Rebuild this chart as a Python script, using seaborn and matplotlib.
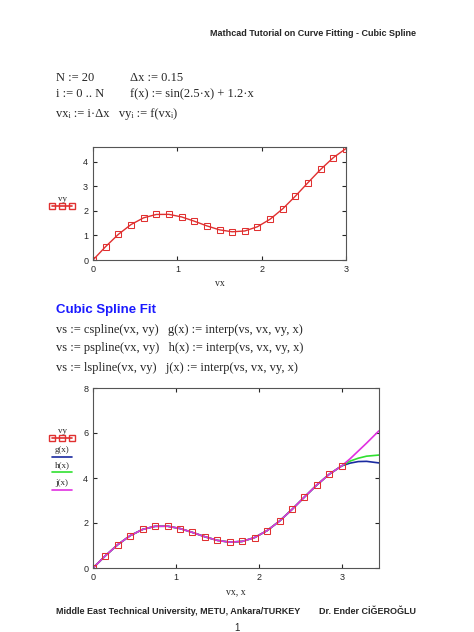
import matplotlib
matplotlib.use("Agg")
import matplotlib.pyplot as plt
import seaborn as sns
import numpy as np
from matplotlib.lines import Line2D

sns.set_style("white")
plt.rcParams['font.family'] = ['Liberation Sans', 'DejaVu Sans']

vx = [0, 0.15, 0.3, 0.45, 0.6, 0.75, 0.9, 1.05, 1.2, 1.35, 1.5, 1.65, 1.8, 1.95,
      2.1, 2.25, 2.4, 2.55, 2.7, 2.85, 3.0]
vy = [0, 0.546, 1.042, 1.442, 1.717, 1.854, 1.858, 1.754, 1.581, 1.389, 1.228,
      1.149, 1.182, 1.354, 1.661, 2.085, 2.601, 3.152, 3.690, 4.168, 4.538]
ext_x = [3.1, 3.2, 3.3, 3.45]
g_ext = [4.66, 4.73, 4.74, 4.67]
h_ext = [4.75, 4.88, 4.97, 5.02]
j_ext = [4.85, 5.2, 5.55, 6.1]

W, H = 474, 632
fig = plt.figure(figsize=(W/100, H/100), dpi=100)
def ax_px(l, t, r, b):
    return fig.add_axes([l/W, 1-b/H, (r-l)/W, (b-t)/H])
def ftext(x, y, s, **kw):
    fig.text(x/W, 1-y/H, s, **kw)

ftext(416, 33, "Mathcad Tutorial on Curve Fitting - Cubic Spline", ha='right', va='center', fontsize=6.5, fontweight='bold')
ser = dict(family='Liberation Serif', fontsize=9, va='center')
ftext(56, 78, "N := 20", **ser); ftext(130, 78, "Δx := 0.15", **ser)
ftext(56, 94, "i := 0 .. N", **ser); ftext(130, 94, "f(x) := sin(2.5·x) + 1.2·x", **ser)
ftext(56, 114, "vxᵢ := i·Δx   vyᵢ := f(vxᵢ)", **ser)

ftext(56, 310, "Cubic Spline Fit", fontsize=9.5, fontweight='bold', color='#1a1aff', va='center')
ftext(56, 330, "vs := cspline(vx, vy)   g(x) := interp(vs, vx, vy, x)", **ser)
ftext(56, 348, "vs := pspline(vx, vy)   h(x) := interp(vs, vx, vy, x)", **ser)
ftext(56, 368, "vs := lspline(vx, vy)   j(x) := interp(vs, vx, vy, x)", **ser)

ftext(56, 611, "Middle East Technical University, METU, Ankara/TURKEY", fontsize=6.5, fontweight='bold', va='center')
ftext(416, 611, "Dr. Ender CİĞEROĞLU", fontsize=6.5, fontweight='bold', va='center', ha='right')
ftext(237, 628, "1", fontsize=7, ha='center', va='center')

red = '#e03030'
ax1 = ax_px(93, 147, 346, 260)
sns.lineplot(x=vx, y=vy, ax=ax1, color=red, lw=1, marker='s', markersize=4,
             markerfacecolor='none', markeredgecolor=red)
ax1.set_xlim(0, 3); ax1.set_ylim(0, 4.6)
ax1.set_xticks([0, 1, 2, 3]); ax1.set_yticks([0, 1, 2, 3, 4])
ax1.set_xlabel("vx", family='Liberation Serif', fontsize=7)

ax2 = ax_px(93, 388, 379, 568)
ax2.set_ylim(0, 8); ax2.set_xlim(0, 3.45)
sns.lineplot(x=vx + ext_x, y=vy + g_ext, ax=ax2, color='#1a2aa0', lw=1.2)
sns.lineplot(x=vx + ext_x, y=vy + h_ext, ax=ax2, color='#30e030', lw=1.2)
sns.lineplot(x=vx + ext_x, y=vy + j_ext, ax=ax2, color='#e030e0', lw=1.2)
sns.lineplot(x=vx, y=vy, ax=ax2, color=red, lw=0, marker='s', markersize=4,
             markerfacecolor='none', markeredgecolor=red)
ax2.set_xticks([0, 1, 2, 3]); ax2.set_yticks([0, 2, 4, 6, 8])
ax2.set_xlabel("vx, x", family='Liberation Serif', fontsize=7)

for ax in (ax1, ax2):
    ax.tick_params(labelsize=6.5, length=3, direction='in', left=True, bottom=True, top=True, right=True)
    for s in ax.spines.values():
        s.set_color('#555555'); s.set_linewidth(0.8)

def legend_item(y, label, color, marker=None):
    ftext(62, y, label, family='Liberation Serif', fontsize=6.5, ha='center', va='center')
    yy = 1-(y+7)/H
    fig.lines.append(Line2D([52/W, 62/W, 72/W], [yy, yy, yy], transform=fig.transFigure, color=color, lw=1.2,
                            marker=marker, markersize=4, markerfacecolor='none'))
legend_item(199, "vy", red, 's')
legend_item(431, "vy", red, 's')
legend_item(450, "g(x)", '#1a2aa0')
legend_item(465, "h(x)", '#30e030')
legend_item(483, "j(x)", '#e030e0')

fig.savefig("out.png", dpi=100)
